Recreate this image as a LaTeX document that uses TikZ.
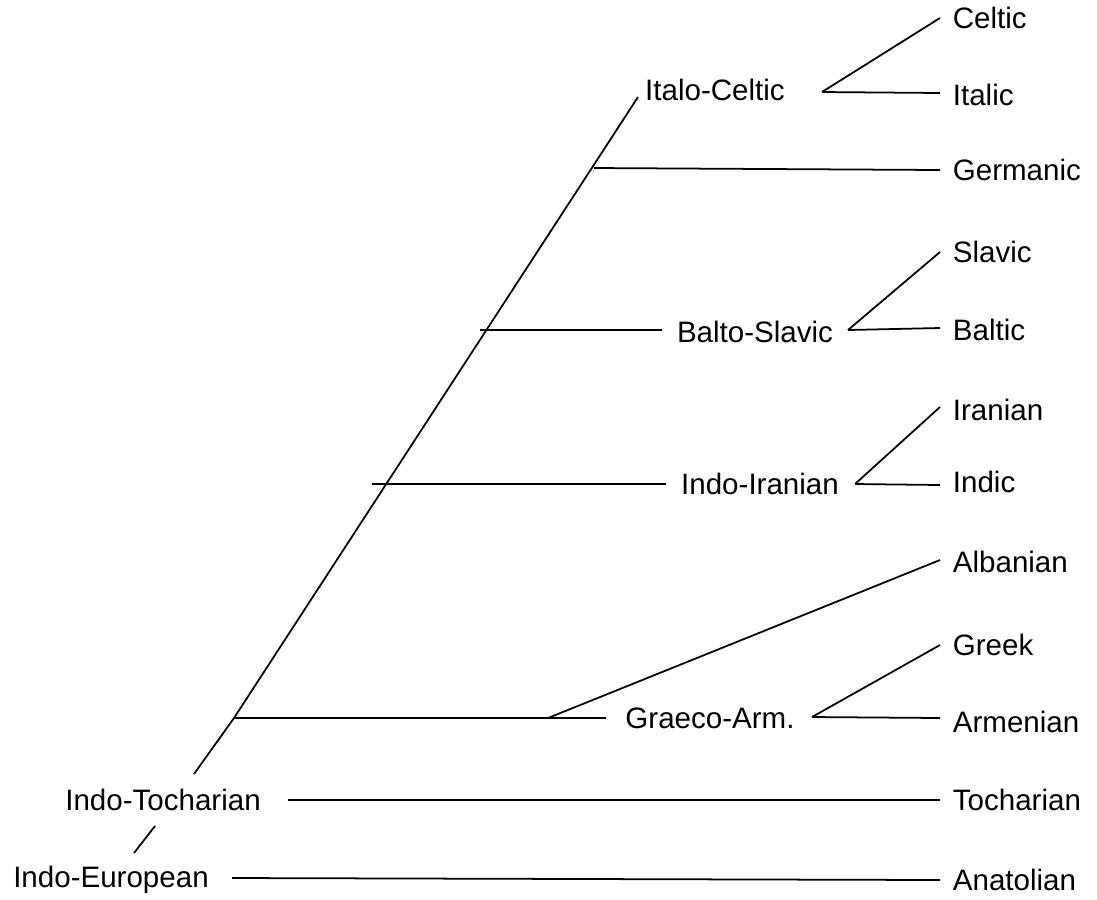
\documentclass[tikz,border=0pt]{standalone}
\usepackage{fontspec}
\setmainfont{Liberation Sans}
\begin{document}
\begin{tikzpicture}[x=0.01cm,y=-0.01cm,line width=0.5pt,
  lbl/.style={anchor=west,inner sep=0pt,font=\fontsize{8.4}{10}\selectfont},
  mid/.style={inner sep=0pt,font=\fontsize{8.4}{10}\selectfont}]
\useasboundingbox (0,0) rectangle (1097,899);
\node[lbl] (celtic) at (952,18) {Celtic};
\node[lbl] (italic) at (952,95) {Italic};
\node[lbl] (germanic) at (952,170) {Germanic};
\node[lbl] (slavic) at (952,252) {Slavic};
\node[lbl] (baltic) at (952,330) {Baltic};
\node[lbl] (iranian) at (952,410) {Iranian};
\node[lbl] (indic) at (952,482) {Indic};
\node[lbl] (albanian) at (952,562) {Albanian};
\node[lbl] (greek) at (952,645) {Greek};
\node[lbl] (armenian) at (952,722) {Armenian};
\node[lbl] (tocharian) at (952,800) {Tocharian};
\node[lbl] (anatolian) at (952,880) {Anatolian};
\node[mid] (ic) at (715,90) {Italo-Celtic};
\node[mid] (bs) at (755,332) {Balto-Slavic};
\node[mid] (ii) at (760,484) {Indo-Iranian};
\node[mid] (ga) at (710,718) {Graeco-Arm.};
\node[mid] (it) at (163,800) {Indo-Tocharian};
\node[mid] (ie) at (111,880) {Indo-European};
\coordinate (top) at (638,97);
\coordinate (jg) at (594,168);
\coordinate (jb) at (480,330);
\coordinate (ji) at (372,484);
\coordinate (ja) at (234,718);
\coordinate (jal) at (548,718);
\draw (top) -- (ja) -- (194,774);
\draw (155,826) -- (134,853);
\draw (822,92) -- (940,18);
\draw (822,92) -- (940,93);
\draw (jg) -- (940,170);
\draw (jb) -- (662,330);
\draw (848,330) -- (940,252);
\draw (848,330) -- (940,328);
\draw (ji) -- (666,484);
\draw (855,484) -- (940,407);
\draw (855,484) -- (940,485);
\draw (ja) -- (606,718);
\draw (jal) -- (940,560);
\draw (812,717) -- (940,645);
\draw (812,717) -- (940,718);
\draw (288,800) -- (940,800);
\draw (232,878) -- (940,880);
\end{tikzpicture}
\end{document}
